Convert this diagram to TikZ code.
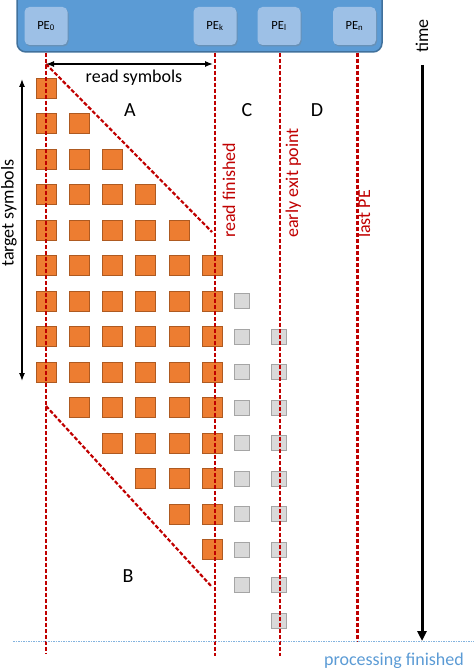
\documentclass[tikz,border=0pt]{standalone}
\usepackage{fontspec}
\setmainfont{Carlito}
\usetikzlibrary{arrows.meta,shadows}
\definecolor{barfill}{HTML}{5B9BD5}
\definecolor{baredge}{HTML}{41719C}
\definecolor{pefill}{HTML}{9DC0E6}
\definecolor{orfill}{HTML}{ED7D31}
\definecolor{oredge}{HTML}{AE5A21}
\definecolor{gyfill}{HTML}{D9D9D9}
\definecolor{gyedge}{HTML}{A5A5A5}
\definecolor{pered}{HTML}{C00000}
\newcommand{\lblfont}{\fontsize{18}{20}\selectfont}
\newcommand{\letfont}{\fontsize{20}{22}\selectfont}
\newcommand{\pefont}{\fontsize{12.5}{14}\selectfont}

\begin{document}
\begin{tikzpicture}[x=1pt,y=-1pt,
	bar/.style={draw=baredge, fill=barfill, line width=1.5pt, rounded corners=9pt, minimum width=365pt, minimum height=62pt},
	pebox/.style={fill=pefill, rounded corners=5pt, minimum width=43pt, minimum height=38pt, inner sep=0pt, font=\pefont,
		drop shadow={shadow xshift=1pt, shadow yshift=-1.5pt, opacity=0.35}},
	peline/.style={pered, line width=2.2pt, dash pattern=on 4pt off 2pt},
	orsq/.style={draw=oredge, fill=orfill, line width=0.9pt, minimum size=20pt, inner sep=0pt},
	gysq/.style={draw=gyedge, fill=gyfill, line width=0.9pt, minimum size=15pt, inner sep=0pt},
	dimarrow/.style={black, line width=1.3pt, {Latex[length=8pt,width=6pt]}-{Latex[length=8pt,width=6pt]}},
	redtxt/.style={pered, font=\lblfont, rotate=90, anchor=base west, inner sep=0pt}]
		%%%%% START %%%%%
		\useasboundingbox (0,0) rectangle (474,668);
		
		% processing elements
		\node[bar] (bar) at (199.5,21) {};
		\node[pebox] (pe0) at (46,26) {PE\textsubscript{0}};
		\node[pebox] (pek) at (215,26) {PE\textsubscript{k}};
		\node[pebox] (pel) at (279,26) {PE\textsubscript{l}};
		\node[pebox] (pen) at (354.5,26) {PE\textsubscript{n}};
		
		% target symbols (orange) and early exit (grey)
		\foreach \i in {0,...,13}{
			\foreach \j in {0,...,5}{
				\pgfmathtruncatemacro{\lo}{\i-8}
				\ifnum\j>\i\else\ifnum\j<\lo\else
					\node[orsq] (or\i-\j) at ({46+33.3*\j},{88+35.5*\i}) {};
				\fi\fi
			}
		}
		\foreach \i in {6,...,14}
			\node[gysq] (gya\i) at (242,{88+35.5*\i}) {};
		\foreach \i in {7,...,15}
			\node[gysq] (gyb\i) at (279,{88+35.5*\i}) {};
		
		% PE time lines
		\coordinate (end0) at (46,653);
		\coordinate (endk) at (215,656);
		\coordinate (endl) at (280,656);
		\coordinate (endn) at (357.5,641);
		\draw[peline] (pe0 |- bar.south) -- (end0);
		\draw[peline] (pek |- bar.south) -- (endk);
		\draw[peline] (endl |- bar.south) -- (endl);
		\draw[peline] (endn |- bar.south) -- (endn);
		
		% regions A and B
		\coordinate (a1) at (46,64);
		\coordinate (a2) at (212,232);
		\coordinate (b1) at (46,406);
		\coordinate (b2) at (212,587);
		\draw[peline] (a1) -- (a2);
		\draw[peline] (b1) -- (b2);
		
		% dimensions
		\coordinate (rs) at (213,64);
		\draw[dimarrow] (a1) -- (rs);
		\coordinate (ts1) at (22,79);
		\coordinate (ts2) at (22,381);
		\draw[dimarrow] (ts1) -- (ts2);
		\node[font=\lblfont, anchor=base] (rstxt) at (134,83) {read symbols};
		\node[font=\lblfont, rotate=90, anchor=base west, inner sep=0pt] (tstxt) at (13.5,267) {target symbols};
		
		\node[font=\letfont, anchor=base] (lA) at (130,117) {A};
		\node[font=\letfont, anchor=base] (lB) at (128,582) {B};
		\node[font=\letfont, anchor=base] (lC) at (247,117) {C};
		\node[font=\letfont, anchor=base] (lD) at (317,117) {D};
		
		\node[redtxt] (rf) at (235,238) {read finished};
		\node[redtxt] (ee) at (298,238) {early exit point};
		\node[redtxt] (lp) at (370,238) {last PE};
		
		% time axis
		\coordinate (t1) at (422,65);
		\coordinate (t2) at (422,641);
		\draw[line width=3pt, -{Triangle[length=10pt,width=9pt]}] (t1) -- (t2);
		\node[font=\lblfont, rotate=90, anchor=base west, inner sep=0pt] (tm) at (428,53) {time};
		
		% end of processing
		\coordinate (pf1) at (13,641.5);
		\coordinate (pf2) at (474,641.5);
		\draw[barfill!75, line width=0.6pt, dash pattern=on 1.5pt off 1pt] (pf1) -- (pf2);
		\node[barfill, font=\lblfont, anchor=base] (pf) at (394,665) {processing finished};
		
		%%%%% END %%%%%
	\end{tikzpicture}
\end{document}
